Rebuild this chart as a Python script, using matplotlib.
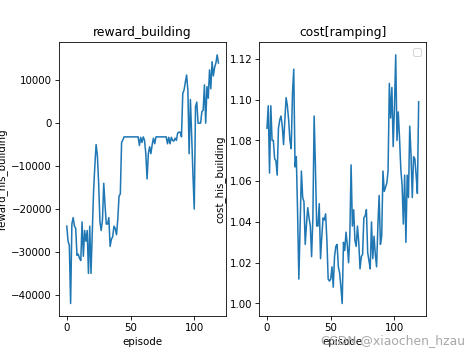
import matplotlib
matplotlib.use("Agg")
import matplotlib.pyplot as plt
import numpy as np

# reward per episode
reward_his_building = [
    -24000, -27500, -28500, -42000, -23500, -22000, -24000, -24500, -30800, -30500,
    -31500, -32000, -23000, -31000, -25000, -27500, -25000, -35000, -24000, -35000,
    -25500, -16000, -10000, -5000, -7500, -14000, -23000, -25000, -22500, -14000,
    -19000, -23500, -23500, -22000, -28700, -27000, -26500, -24000, -24500, -26000,
    -22500, -17000, -16500, -4500, -3900, -3200,
    -3200, -3200, -3200, -3200, -3200, -3200, -3200, -3200, -3200, -3200, -3200,
    -5200, -3300, -4500, -3200, -4000, -7100, -13000, -7100, -5500, -7100, -5000,
    -3500, -4800,
    -3200, -3200, -3200, -3200, -3200, -3200, -3200, -3200, -3200,
    -4800, -3300, -4800, -3300, -4000, -4200, -3500, -4000, -2300, -2100,
    -2100, -3200, 6900, 7700, 9500, 11200, 7700, -7100, 5500, -3000,
    -12000, -20000, 3800, 4900, 0, 0, 0, 2700, 3000, 8900,
    0, 8500, 5800, 12400, 8000, 14300, 11000, 13000, 14000, 15900,
    14000,
]

# ramping cost per episode
cost_his_building = [
    1.086, 1.097, 1.064, 1.097, 1.080, 1.080, 1.071, 1.070, 1.063, 1.086,
    1.090, 1.092, 1.087, 1.078, 1.090, 1.101, 1.097, 1.090, 1.080, 1.076,
    1.103, 1.115, 1.067, 1.072, 1.045, 1.012, 1.038, 1.065, 1.052, 1.050,
    1.029, 1.039, 1.047, 1.042, 1.038, 1.023, 1.042, 1.092, 1.067, 1.038,
    1.038, 1.049, 1.022, 1.033, 1.042, 1.041, 1.044, 1.031, 1.012, 1.011,
    1.012, 1.018, 1.008, 1.023, 1.028, 1.029, 1.018, 1.015, 1.008, 1.000,
    1.030, 1.026, 1.035, 1.029, 1.020, 1.033, 1.068, 1.038, 1.046, 1.031,
    1.028, 1.038, 1.030, 1.017, 1.023, 1.024, 1.042, 1.043, 1.046, 1.025,
    1.021, 1.017, 1.040, 1.022, 1.033, 1.024, 1.018, 1.038, 1.053, 1.029,
    1.033, 1.065, 1.055, 1.057, 1.059, 1.065, 1.108, 1.091, 1.106, 1.077,
    1.096, 1.122, 1.080, 1.094, 1.081, 1.066, 1.058, 1.039, 1.063, 1.030,
    1.063, 1.052, 1.087, 1.073, 1.052, 1.072, 1.071, 1.063, 1.054, 1.099,
]

fig = plt.figure(figsize=(6.4, 4.8), dpi=74)

ax1 = fig.add_subplot(1, 2, 1)
ax1.plot(np.arange(len(reward_his_building)), reward_his_building)
ax1.set_xlabel('episode')
ax1.set_ylabel('reward_his_building')
ax1.set_title('reward_building')

ax2 = fig.add_subplot(1, 2, 2)
ax2.plot(np.arange(len(cost_his_building)), cost_his_building)
ax2.set_xlabel('episode')
ax2.set_ylabel('cost_his_building')
ax2.set_title('cost[ramping]')
ax2.legend()

# watermark
fig.text(0.981, 0.031, 'CSDN @xiaochen_hzau', ha='right', va='baseline',
         fontsize=12, color='#a8a8a8')

plt.savefig('out.png', dpi=74)
